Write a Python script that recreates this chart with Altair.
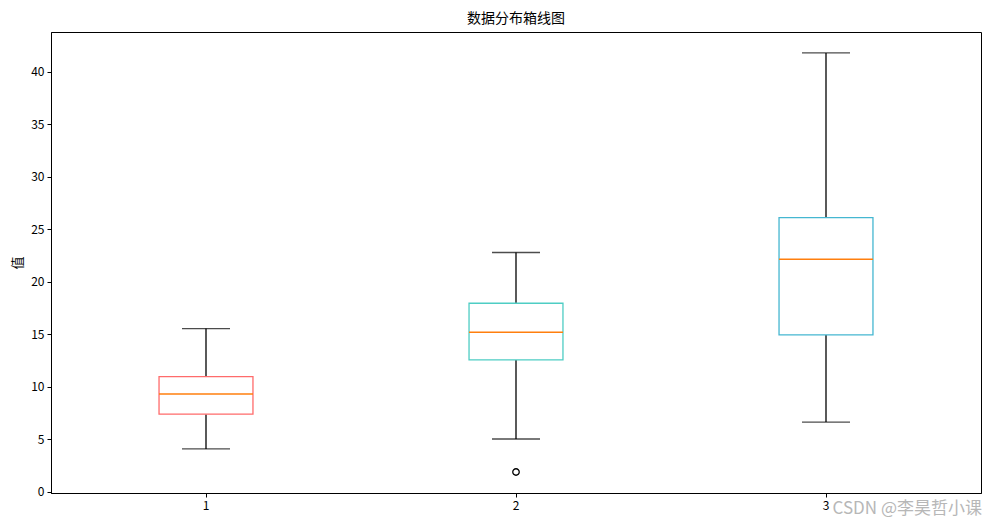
import altair as alt
import pandas as pd

groups = ["1", "2", "3"]
whisker_low = [4.07, 5.01, 6.62]
q1 = [7.38, 12.54, 14.92]
median = [9.29, 15.18, 22.14]
q3 = [10.95, 17.94, 26.10]
whisker_high = [15.53, 22.77, 41.78]
box_colors = ["#FF6B6B", "#4ECDC4", "#45B7D1"]

outlier_group = ["2"]
outlier_value = [1.87]

FONT = "Noto Sans CJK SC"

df = pd.DataFrame({
    "g": groups, "lo": whisker_low, "q1": q1, "med": median,
    "q3": q3, "hi": whisker_high, "c": box_colors,
})
dout = pd.DataFrame({"g": outlier_group, "v": outlier_value})

xenc = alt.X("g:N", title=None,
             scale=alt.Scale(domain=groups, paddingInner=0, paddingOuter=0),
             axis=alt.Axis(labelAngle=0, domainColor="black", tickColor="black",
                           labelColor="black", labelFontSize=12, labelFont=FONT,
                           tickSize=4, labelPadding=3, grid=False))
yscale = alt.Scale(domain=[-0.13, 43.77], nice=False, zero=False)
yaxis = alt.Axis(values=list(range(0, 45, 5)), domainColor="black", tickColor="black",
                 labelColor="black", labelFontSize=12, labelFont=FONT, tickSize=4,
                 labelPadding=3, grid=False, title="值", titleFont=FONT,
                 titleFontSize=13, titleFontWeight="normal", titleColor="black",
                 titlePadding=6)

base = alt.Chart(df)

whisk_lo = base.mark_rule(color="black", strokeWidth=1.3).encode(
    x=xenc, y=alt.Y("lo:Q", scale=yscale, axis=yaxis), y2="q1:Q")
whisk_hi = base.mark_rule(color="black", strokeWidth=1.3).encode(
    x="g:N", y=alt.Y("q3:Q", scale=yscale), y2="hi:Q")
cap_lo = base.mark_tick(color="black", orient="horizontal", size=48, thickness=1.3).encode(
    x="g:N", y=alt.Y("lo:Q", scale=yscale))
cap_hi = base.mark_tick(color="black", orient="horizontal", size=48, thickness=1.3).encode(
    x="g:N", y=alt.Y("hi:Q", scale=yscale))
box = base.mark_bar(fill="white", strokeWidth=1.3, width=alt.RelativeBandSize(0.303)).encode(
    x="g:N", y=alt.Y("q1:Q", scale=yscale), y2="q3:Q",
    stroke=alt.Stroke("c:N", scale=None))
med = base.mark_tick(color="#ff7f0e", orient="horizontal", size=94, thickness=1.5,
                     opacity=1).encode(
    x="g:N", y=alt.Y("med:Q", scale=yscale))
outl = alt.Chart(dout).mark_point(shape="circle", filled=False, color="black",
                                  strokeWidth=1.3, size=42, opacity=1).encode(
    x="g:N", y=alt.Y("v:Q", scale=yscale))

wm = alt.Chart(pd.DataFrame({"t": ["CSDN @李昊哲小课"]})).mark_text(
    align="right", baseline="middle", fontSize=17, font=FONT, color="#b0b0b0",
    opacity=0.9, clip=False
).encode(text="t:N", x=alt.value(931), y=alt.value(477))

chart = alt.layer(whisk_lo, whisk_hi, cap_lo, cap_hi, box, med, outl, wm).properties(
    width=930, height=461,
    title=alt.TitleParams("数据分布箱线图", font=FONT, fontSize=14, fontWeight="normal",
                          color="black", offset=6),
    padding={"left": 43, "top": 24, "right": 2, "bottom": 25},
    autosize=alt.AutoSizeParams(type="none"),
).configure_view(stroke="black", strokeWidth=1)

chart.save("out.html", embed_options={"renderer": "svg", "actions": False})
